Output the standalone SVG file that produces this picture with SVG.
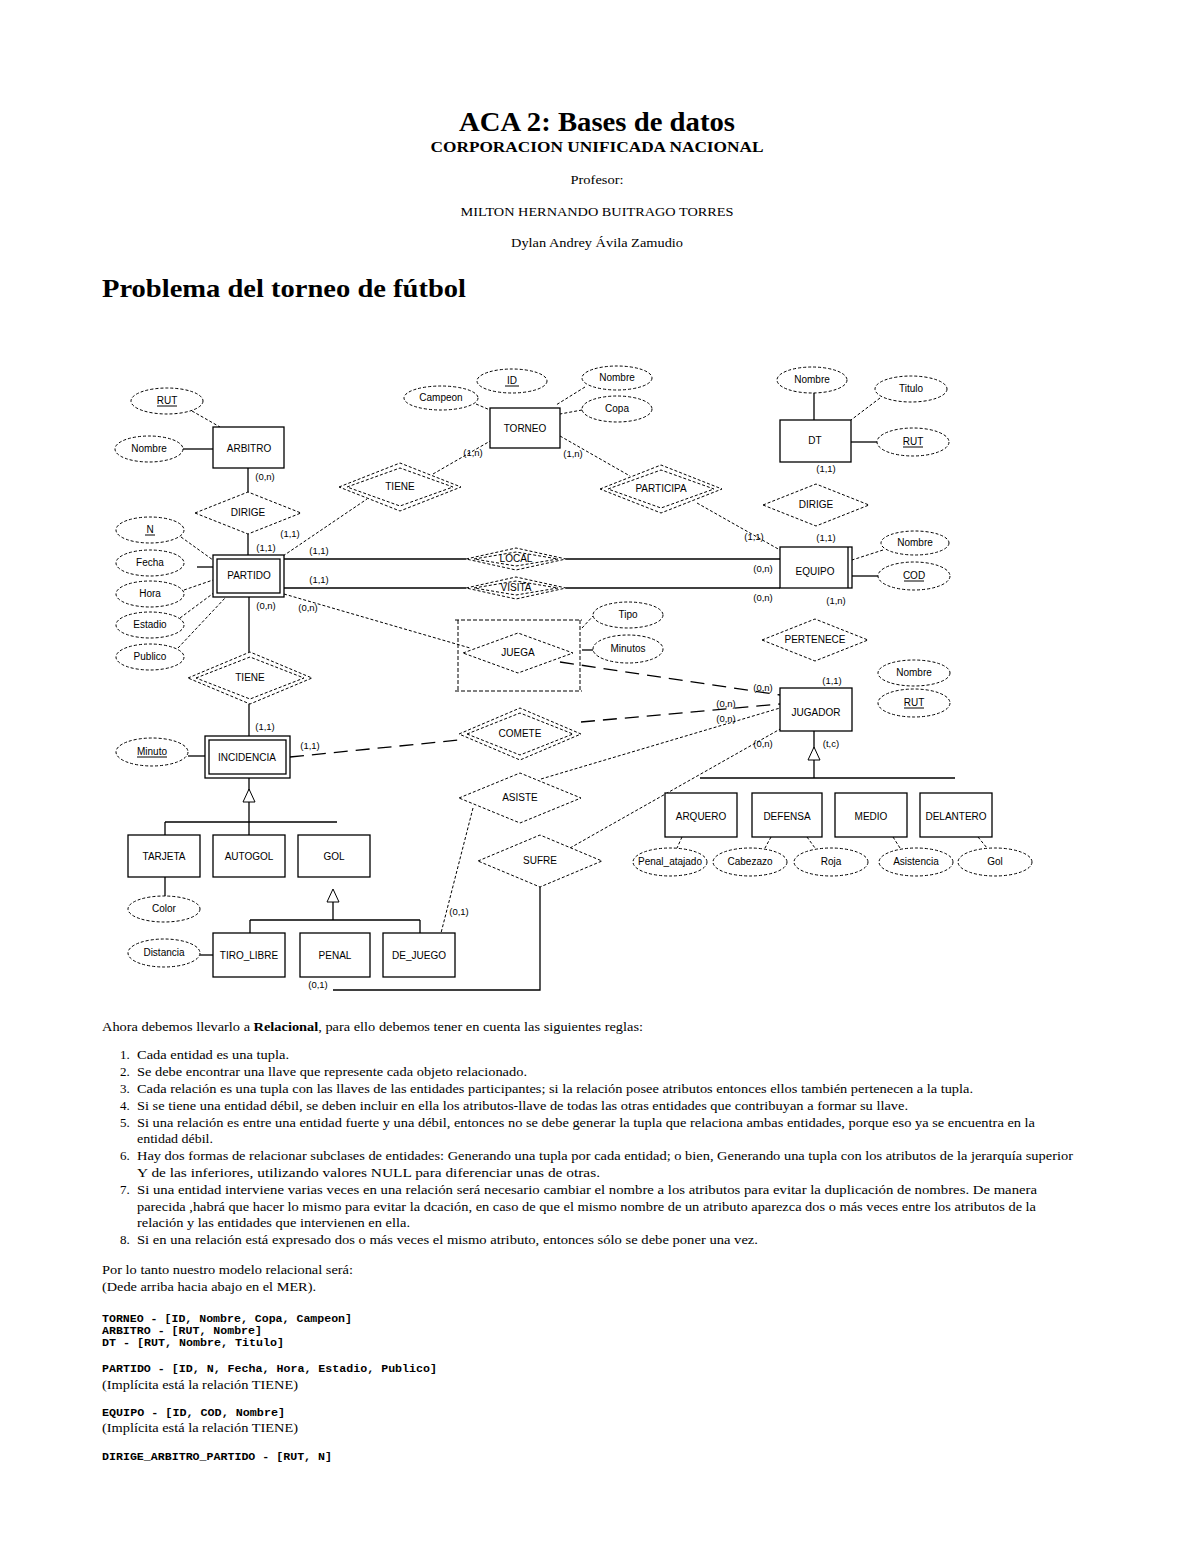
<svg xmlns="http://www.w3.org/2000/svg" width="1200" height="1553" viewBox="0 0 1200 1553">
<style>
.bg{fill:#fff}
.ent{fill:#fff;stroke:#000;stroke-width:1.3}
.att{fill:#fff;stroke:#000;stroke-width:1;stroke-dasharray:3 2}
.rel{fill:#fff;stroke:#000;stroke-width:1;stroke-dasharray:3 2}
.agg{fill:none;stroke:#000;stroke-width:1;stroke-dasharray:4 2}
.s{stroke:#000;stroke-width:1.3;fill:none}
.d{stroke:#000;stroke-width:1;stroke-dasharray:3 2;fill:none}
.ld{stroke:#000;stroke-width:1.3;stroke-dasharray:14 8;fill:none}
.tri{fill:#fff;stroke:#000;stroke-width:1}
.l{font-family:"Liberation Sans",Arial,sans-serif;font-size:10px;text-anchor:middle;fill:#000}
.c{font-family:"Liberation Sans",Arial,sans-serif;font-size:9.5px;text-anchor:middle;fill:#000}
.u{stroke:#000;stroke-width:1}
.serif{font-family:"Liberation Serif","Times New Roman",serif;fill:#000}
.body{font-family:"Liberation Serif","Times New Roman",serif;font-size:13px;fill:#000}
.mono{font-family:"Liberation Mono","Courier New",monospace;font-size:11.5px;font-weight:bold;fill:#000}
</style>
<rect class="bg" x="0" y="0" width="1200" height="1553"/>

<g id="header">
<text class="serif" x="597" y="131" font-size="27" font-weight="bold" text-anchor="middle" textLength="276" lengthAdjust="spacingAndGlyphs">ACA 2: Bases de datos</text>
<text class="serif" x="597" y="152" font-size="15" font-weight="bold" text-anchor="middle" textLength="333" lengthAdjust="spacingAndGlyphs">CORPORACION UNIFICADA NACIONAL</text>
<text class="serif" x="597" y="184" font-size="12" text-anchor="middle" textLength="53" lengthAdjust="spacingAndGlyphs">Profesor:</text>
<text class="serif" x="597" y="216" font-size="12" text-anchor="middle" textLength="273" lengthAdjust="spacingAndGlyphs">MILTON HERNANDO BUITRAGO TORRES</text>
<text class="serif" x="597" y="247" font-size="12" text-anchor="middle" textLength="172" lengthAdjust="spacingAndGlyphs">Dylan Andrey Ávila Zamudio</text>
<text class="serif" x="102" y="297" font-size="25" font-weight="bold" textLength="364" lengthAdjust="spacingAndGlyphs">Problema del torneo de fútbol</text>
</g>

<g id="connectors">
<line class="s" x1="183" y1="449" x2="213" y2="449"/>
<line class="d" x1="192" y1="411" x2="220" y2="427"/>
<line class="s" x1="248" y1="468" x2="248" y2="492"/>
<line class="s" x1="248" y1="534" x2="248" y2="555"/>
<line class="d" x1="283" y1="556" x2="367" y2="499"/>
<line class="d" x1="433" y1="474" x2="492" y2="440"/>
<line class="d" x1="476" y1="404" x2="490" y2="410"/>
<line class="d" x1="585" y1="387" x2="556" y2="405"/>
<line class="d" x1="582" y1="410" x2="560" y2="414"/>
<line class="d" x1="560" y1="436" x2="630" y2="476"/>
<line class="d" x1="697" y1="503" x2="780" y2="550"/>
<line class="s" x1="814" y1="393" x2="814" y2="420"/>
<line class="d" x1="880" y1="398" x2="851" y2="420"/>
<line class="s" x1="851" y1="442" x2="877" y2="442"/>
<line class="d" x1="883" y1="550" x2="852" y2="560"/>
<line class="s" x1="852" y1="576" x2="878" y2="576"/>
<line class="s" x1="284" y1="559" x2="466" y2="559"/>
<line class="s" x1="566" y1="559" x2="780" y2="559"/>
<line class="s" x1="284" y1="588" x2="466" y2="588"/>
<line class="s" x1="566" y1="588" x2="780" y2="588"/>
<line class="d" x1="181" y1="537" x2="213" y2="560"/>
<line class="s" x1="197" y1="567" x2="213" y2="567"/>
<line class="d" x1="184" y1="590" x2="213" y2="580"/>
<line class="d" x1="180" y1="618" x2="215" y2="592"/>
<line class="d" x1="178" y1="648" x2="226" y2="597"/>
<line class="d" x1="284" y1="594" x2="470" y2="648"/>
<line class="ld" x1="560" y1="662" x2="780" y2="695"/>
<line class="d" x1="582" y1="628" x2="594" y2="615"/>
<line class="s" x1="582" y1="650" x2="593" y2="650"/>
<line class="s" x1="249" y1="597" x2="249" y2="652"/>
<line class="s" x1="249" y1="704" x2="249" y2="736"/>
<line class="s" x1="188" y1="756" x2="205" y2="756"/>
<line class="ld" x1="290" y1="757" x2="459" y2="740"/>
<line class="ld" x1="581" y1="722" x2="780" y2="704"/>
<line class="d" x1="541" y1="779" x2="780" y2="708"/>
<line class="d" x1="473" y1="808" x2="441" y2="933"/>
<line class="d" x1="570" y1="848" x2="782" y2="728"/>
<polyline class="s" points="540,887 540,990 333,990"/>
<line class="s" x1="814" y1="731" x2="814" y2="778"/>
<line class="s" x1="700" y1="778" x2="955" y2="778"/>
<line class="d" x1="682" y1="837" x2="677" y2="848"/>
<line class="d" x1="771" y1="837" x2="765" y2="848"/>
<line class="d" x1="807" y1="837" x2="815" y2="848"/>
<line class="d" x1="893" y1="837" x2="900" y2="848"/>
<line class="d" x1="978" y1="837" x2="987" y2="848"/>
<line class="s" x1="249" y1="778" x2="249" y2="835"/>
<line class="s" x1="165" y1="822" x2="337" y2="822"/>
<line class="s" x1="165" y1="822" x2="165" y2="835"/>
<line class="s" x1="165" y1="877" x2="165" y2="896"/>
<line class="s" x1="333" y1="902" x2="333" y2="920"/>
<line class="s" x1="250" y1="920" x2="420" y2="920"/>
<line class="s" x1="250" y1="920" x2="250" y2="933"/>
<line class="s" x1="420" y1="920" x2="420" y2="933"/>
<line class="s" x1="200" y1="955" x2="213" y2="955"/>
<polygon class="tri" points="249,789 243,802 255,802"/>
<polygon class="tri" points="814,747 808,760 820,760"/>
<polygon class="tri" points="333,889 327,902 339,902"/>
</g>

<g id="cardinalities">
<text class="c" x="265" y="480">(0,n)</text>
<text class="c" x="266" y="551">(1,1)</text>
<text class="c" x="290" y="537">(1,1)</text>
<text class="c" x="319" y="554">(1,1)</text>
<text class="c" x="319" y="583">(1,1)</text>
<text class="c" x="266" y="609">(0,n)</text>
<text class="c" x="308" y="611">(0,n)</text>
<text class="c" x="473" y="456">(1,n)</text>
<text class="c" x="573" y="457">(1,n)</text>
<text class="c" x="826" y="472">(1,1)</text>
<text class="c" x="826" y="541">(1,1)</text>
<text class="c" x="754" y="540">(1,1)</text>
<text class="c" x="763" y="572">(0,n)</text>
<text class="c" x="763" y="601">(0,n)</text>
<text class="c" x="836" y="604">(1,n)</text>
<text class="c" x="832" y="684">(1,1)</text>
<text class="c" x="763" y="691">(0,n)</text>
<text class="c" x="726" y="707">(0,n)</text>
<text class="c" x="726" y="722">(0,n)</text>
<text class="c" x="763" y="747">(0,n)</text>
<text class="c" x="831" y="747">(t,c)</text>
<text class="c" x="265" y="730">(1,1)</text>
<text class="c" x="310" y="749">(1,1)</text>
<text class="c" x="459" y="915">(0,1)</text>
<text class="c" x="318" y="988">(0,1)</text>
</g>

<g id="ARBITRO"><rect class="ent" x="213" y="427" width="71" height="41"/><text class="l" x="249" y="452">ARBITRO</text></g>
<g id="ARBITRO_RUT"><ellipse class="att" cx="167" cy="401" rx="36" ry="13"/><text class="l" x="167" y="404">RUT</text><line class="u" x1="157" y1="406" x2="177" y2="406"/></g>
<g id="ARBITRO_Nombre"><ellipse class="att" cx="149" cy="449" rx="34" ry="13"/><text class="l" x="149" y="452">Nombre</text></g>
<g id="DIRIGE_ARB"><polygon class="rel" points="195,513 248,492 301,513 248,534"/><text class="l" x="248" y="516">DIRIGE</text></g>

<g id="TORNEO"><rect class="ent" x="490" y="408" width="70" height="40"/><text class="l" x="525" y="432">TORNEO</text></g>
<g id="TORNEO_ID"><ellipse class="att" cx="512" cy="381" rx="35" ry="12"/><text class="l" x="512" y="384">ID</text><line class="u" x1="505" y1="386" x2="519" y2="386"/></g>
<g id="TORNEO_Campeon"><ellipse class="att" cx="441" cy="398" rx="37" ry="12"/><text class="l" x="441" y="401">Campeon</text></g>
<g id="TORNEO_Nombre"><ellipse class="att" cx="617" cy="378" rx="35" ry="12"/><text class="l" x="617" y="381">Nombre</text></g>
<g id="TORNEO_Copa"><ellipse class="att" cx="617" cy="409" rx="35" ry="13"/><text class="l" x="617" y="412">Copa</text></g>
<g id="TIENE_TORNEO"><polygon class="rel" points="339,487 400,463 461,487 400,511"/><polygon class="rel" points="347,487 400,468 453,487 400,506"/><text class="l" x="400" y="490">TIENE</text></g>
<g id="PARTICIPA"><polygon class="rel" points="600,489 661,465 722,489 661,513"/><polygon class="rel" points="608,489 661,470 714,489 661,508"/><text class="l" x="661" y="492">PARTICIPA</text></g>

<g id="DT"><rect class="ent" x="780" y="420" width="71" height="42"/><text class="l" x="815" y="444">DT</text></g>
<g id="DT_Nombre"><ellipse class="att" cx="812" cy="380" rx="35" ry="13"/><text class="l" x="812" y="383">Nombre</text></g>
<g id="DT_Titulo"><ellipse class="att" cx="911" cy="389" rx="36" ry="13"/><text class="l" x="911" y="392">Titulo</text></g>
<g id="DT_RUT"><ellipse class="att" cx="913" cy="442" rx="36" ry="14"/><text class="l" x="913" y="445">RUT</text><line class="u" x1="903" y1="447" x2="923" y2="447"/></g>
<g id="DIRIGE_DT"><polygon class="rel" points="763,505 816,484 869,505 816,526"/><text class="l" x="816" y="508">DIRIGE</text></g>

<g id="PARTIDO"><rect class="ent" x="213" y="555" width="71" height="42"/><rect class="ent" x="217" y="559" width="63" height="34"/><text class="l" x="249" y="579">PARTIDO</text></g>
<g id="PARTIDO_N"><ellipse class="att" cx="150" cy="530" rx="34" ry="13"/><text class="l" x="150" y="533">N</text><line class="u" x1="145" y1="535" x2="155" y2="535"/></g>
<g id="PARTIDO_Fecha"><ellipse class="att" cx="150" cy="563" rx="34" ry="13"/><text class="l" x="150" y="566">Fecha</text></g>
<g id="PARTIDO_Hora"><ellipse class="att" cx="150" cy="594" rx="34" ry="13"/><text class="l" x="150" y="597">Hora</text></g>
<g id="PARTIDO_Estadio"><ellipse class="att" cx="150" cy="625" rx="34" ry="13"/><text class="l" x="150" y="628">Estadio</text></g>
<g id="PARTIDO_Publico"><ellipse class="att" cx="150" cy="657" rx="34" ry="13"/><text class="l" x="150" y="660">Publico</text></g>

<g id="EQUIPO"><rect class="ent" x="780" y="547" width="72" height="41"/><line class="s" x1="848" y1="547" x2="848" y2="588"/><text class="l" x="815" y="575">EQUIPO</text></g>
<g id="EQUIPO_Nombre"><ellipse class="att" cx="915" cy="543" rx="34" ry="12"/><text class="l" x="915" y="546">Nombre</text></g>
<g id="EQUIPO_COD"><ellipse class="att" cx="914" cy="576" rx="36" ry="14"/><text class="l" x="914" y="579">COD</text><line class="u" x1="904" y1="581" x2="924" y2="581"/></g>
<g id="LOCAL"><polygon class="rel" points="466,559 516,548 566,559 516,570"/><polygon class="rel" points="474,559 516,552 558,559 516,566"/><text class="l" x="516" y="562">LOCAL</text></g>
<g id="VISITA"><polygon class="rel" points="466,588 516,577 566,588 516,599"/><polygon class="rel" points="474,588 516,581 558,588 516,595"/><text class="l" x="516" y="591">VISITA</text></g>
<g id="PERTENECE"><polygon class="rel" points="762,640 815,619 868,640 815,661"/><text class="l" x="815" y="643">PERTENECE</text></g>

<g id="JUEGA"><line class="agg" x1="455" y1="620" x2="582" y2="620"/><line class="agg" x1="455" y1="691" x2="582" y2="691"/><line class="agg" x1="458" y1="620" x2="458" y2="691"/><line class="agg" x1="580" y1="620" x2="580" y2="691"/><polygon class="rel" points="463,653 518,633 573,653 518,673"/><text class="l" x="518" y="656">JUEGA</text></g>
<g id="JUEGA_Tipo"><ellipse class="att" cx="628" cy="615" rx="35" ry="13"/><text class="l" x="628" y="618">Tipo</text></g>
<g id="JUEGA_Minutos"><ellipse class="att" cx="628" cy="649" rx="35" ry="14"/><text class="l" x="628" y="652">Minutos</text></g>

<g id="JUGADOR"><rect class="ent" x="780" y="688" width="72" height="43"/><text class="l" x="816" y="716">JUGADOR</text></g>
<g id="JUGADOR_Nombre"><ellipse class="att" cx="914" cy="673" rx="36" ry="13"/><text class="l" x="914" y="676">Nombre</text></g>
<g id="JUGADOR_RUT"><ellipse class="att" cx="914" cy="703" rx="36" ry="14"/><text class="l" x="914" y="706">RUT</text><line class="u" x1="904" y1="708" x2="924" y2="708"/></g>
<g id="COMETE"><polygon class="rel" points="459,734 520,708 581,734 520,760"/><polygon class="rel" points="467,734 520,713 573,734 520,755"/><text class="l" x="520" y="737">COMETE</text></g>
<g id="ASISTE"><polygon class="rel" points="459,798 520,773 581,798 520,823"/><text class="l" x="520" y="801">ASISTE</text></g>
<g id="SUFRE"><polygon class="rel" points="478,861 540,835 602,861 540,887"/><text class="l" x="540" y="864">SUFRE</text></g>

<g id="ARQUERO"><rect class="ent" x="665" y="793" width="72" height="44"/><text class="l" x="701" y="820">ARQUERO</text></g>
<g id="DEFENSA"><rect class="ent" x="752" y="793" width="70" height="44"/><text class="l" x="787" y="820">DEFENSA</text></g>
<g id="MEDIO"><rect class="ent" x="835" y="793" width="72" height="44"/><text class="l" x="871" y="820">MEDIO</text></g>
<g id="DELANTERO"><rect class="ent" x="920" y="793" width="72" height="44"/><text class="l" x="956" y="820">DELANTERO</text></g>
<g id="ARQUERO_Penal"><ellipse class="att" cx="670" cy="862" rx="37" ry="14"/><text class="l" x="670" y="865" font-size="9">Penal_atajado</text></g>
<g id="DEFENSA_Cabezazo"><ellipse class="att" cx="750" cy="862" rx="37" ry="14"/><text class="l" x="750" y="865">Cabezazo</text></g>
<g id="DEFENSA_Roja"><ellipse class="att" cx="831" cy="862" rx="37" ry="14"/><text class="l" x="831" y="865">Roja</text></g>
<g id="MEDIO_Asistencia"><ellipse class="att" cx="916" cy="862" rx="37" ry="14"/><text class="l" x="916" y="865">Asistencia</text></g>
<g id="DELANTERO_Gol"><ellipse class="att" cx="995" cy="862" rx="37" ry="14"/><text class="l" x="995" y="865">Gol</text></g>

<g id="TIENE_INCIDENCIA"><polygon class="rel" points="188,678 250,652 312,678 250,704"/><polygon class="rel" points="196,678 250,657 304,678 250,699"/><text class="l" x="250" y="681">TIENE</text></g>
<g id="INCIDENCIA"><rect class="ent" x="205" y="736" width="85" height="42"/><rect class="ent" x="209" y="740" width="77" height="34"/><text class="l" x="247" y="761">INCIDENCIA</text></g>
<g id="INCIDENCIA_Minuto"><ellipse class="att" cx="152" cy="752" rx="36" ry="14"/><text class="l" x="152" y="755">Minuto</text><line class="u" x1="137" y1="757" x2="167" y2="757"/></g>
<g id="TARJETA"><rect class="ent" x="128" y="835" width="72" height="42"/><text class="l" x="164" y="860">TARJETA</text></g>
<g id="AUTOGOL"><rect class="ent" x="213" y="835" width="72" height="42"/><text class="l" x="249" y="860">AUTOGOL</text></g>
<g id="GOL"><rect class="ent" x="298" y="835" width="72" height="42"/><text class="l" x="334" y="860">GOL</text></g>
<g id="TARJETA_Color"><ellipse class="att" cx="164" cy="909" rx="36" ry="13"/><text class="l" x="164" y="912">Color</text></g>
<g id="TIRO_LIBRE"><rect class="ent" x="213" y="933" width="72" height="44"/><text class="l" x="249" y="959" font-size="9.5">TIRO_LIBRE</text></g>
<g id="PENAL"><rect class="ent" x="300" y="933" width="70" height="44"/><text class="l" x="335" y="959">PENAL</text></g>
<g id="DE_JUEGO"><rect class="ent" x="383" y="933" width="72" height="44"/><text class="l" x="419" y="959">DE_JUEGO</text></g>
<g id="TIRO_Distancia"><ellipse class="att" cx="164" cy="953" rx="36" ry="14"/><text class="l" x="164" y="956">Distancia</text></g>

<g id="body">
<text class="body" x="102" y="1031" textLength="541" lengthAdjust="spacingAndGlyphs">Ahora debemos llevarlo a <tspan font-weight="bold">Relacional</tspan>, para ello debemos tener en cuenta las siguientes reglas:</text>
<text class="body" x="120" y="1059">1.</text>
<text class="body" x="137" y="1059" textLength="152" lengthAdjust="spacingAndGlyphs">Cada entidad es una tupla.</text>
<text class="body" x="120" y="1076">2.</text>
<text class="body" x="137" y="1076" textLength="390" lengthAdjust="spacingAndGlyphs">Se debe encontrar una llave que represente cada objeto relacionado.</text>
<text class="body" x="120" y="1093">3.</text>
<text class="body" x="137" y="1093" textLength="836" lengthAdjust="spacingAndGlyphs">Cada relación es una tupla con las llaves de las entidades participantes; si la relación posee atributos entonces ellos también pertenecen a la tupla.</text>
<text class="body" x="120" y="1110">4.</text>
<text class="body" x="137" y="1110" textLength="771" lengthAdjust="spacingAndGlyphs">Si se tiene una entidad débil, se deben incluir en ella los atributos-llave de todas las otras entidades que contribuyan a formar su llave.</text>
<text class="body" x="120" y="1127">5.</text>
<text class="body" x="137" y="1127" textLength="898" lengthAdjust="spacingAndGlyphs">Si una relación es entre una entidad fuerte y una débil, entonces no se debe generar la tupla que relaciona ambas entidades, porque eso ya se encuentra en la</text>
<text class="body" x="137" y="1143" textLength="76" lengthAdjust="spacingAndGlyphs">entidad débil.</text>
<text class="body" x="120" y="1160">6.</text>
<text class="body" x="137" y="1160" textLength="936" lengthAdjust="spacingAndGlyphs">Hay dos formas de relacionar subclases de entidades: Generando una tupla por cada entidad; o bien, Generando una tupla con los atributos de la jerarquía superior</text>
<text class="body" x="137" y="1177" textLength="463" lengthAdjust="spacingAndGlyphs">Y de las inferiores, utilizando valores NULL para diferenciar unas de otras.</text>
<text class="body" x="120" y="1194">7.</text>
<text class="body" x="137" y="1194" textLength="900" lengthAdjust="spacingAndGlyphs">Si una entidad interviene varias veces en una relación será necesario cambiar el nombre a los atributos para evitar la duplicación de nombres. De manera</text>
<text class="body" x="137" y="1211" textLength="899" lengthAdjust="spacingAndGlyphs">parecida ,habrá que hacer lo mismo para evitar la dcación, en caso de que el mismo nombre de un atributo aparezca dos o más veces entre los atributos de la</text>
<text class="body" x="137" y="1227" textLength="273" lengthAdjust="spacingAndGlyphs">relación y las entidades que intervienen en ella.</text>
<text class="body" x="120" y="1244">8.</text>
<text class="body" x="137" y="1244" textLength="621" lengthAdjust="spacingAndGlyphs">Si en una relación está expresado dos o más veces el mismo atributo, entonces sólo se debe poner una vez.</text>
<text class="body" x="102" y="1274" textLength="251" lengthAdjust="spacingAndGlyphs">Por lo tanto nuestro modelo relacional será:</text>
<text class="body" x="102" y="1291" textLength="214" lengthAdjust="spacingAndGlyphs">(Dede arriba hacia abajo en el MER).</text>
<text class="mono" x="102" y="1322" textLength="250" lengthAdjust="spacingAndGlyphs">TORNEO - [ID, Nombre, Copa, Campeon]</text>
<text class="mono" x="102" y="1334" textLength="160" lengthAdjust="spacingAndGlyphs">ARBITRO - [RUT, Nombre]</text>
<text class="mono" x="102" y="1346" textLength="182" lengthAdjust="spacingAndGlyphs">DT - [RUT, Nombre, Titulo]</text>
<text class="mono" x="102" y="1372" textLength="335" lengthAdjust="spacingAndGlyphs">PARTIDO - [ID, N, Fecha, Hora, Estadio, Publico]</text>
<text class="body" x="102" y="1389" textLength="196" lengthAdjust="spacingAndGlyphs">(Implícita está la relación TIENE)</text>
<text class="mono" x="102" y="1416" textLength="183" lengthAdjust="spacingAndGlyphs">EQUIPO - [ID, COD, Nombre]</text>
<text class="body" x="102" y="1432" textLength="196" lengthAdjust="spacingAndGlyphs">(Implícita está la relación TIENE)</text>
<text class="mono" x="102" y="1460" textLength="230" lengthAdjust="spacingAndGlyphs">DIRIGE_ARBITRO_PARTIDO - [RUT, N]</text>
</g>
</svg>
